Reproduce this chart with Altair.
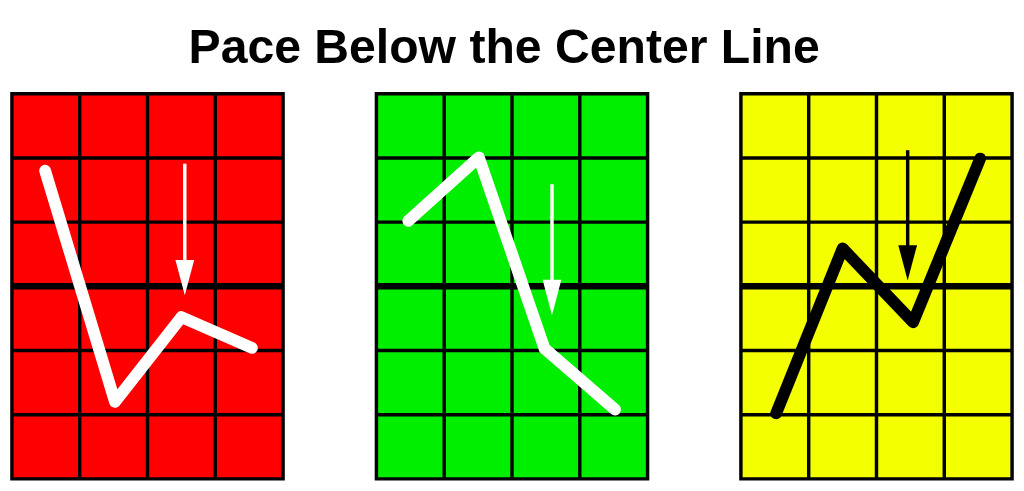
import altair as alt
import pandas as pd

TITLE = "Pace Below the Center Line"

# one entry per panel
panel_fill = ["#FF0000", "#00EE00", "#F4FF00"]
panel_ink = ["#FFFFFF", "#FFFFFF", "#000000"]

# pace line points (column units 0-4, row units 0-6)
line_x = [
    [0.49, 1.52, 2.50, 3.54],
    [0.47, 1.51, 2.48, 3.52],
    [0.52, 1.50, 2.54, 3.53],
]
line_y = [
    [4.80, 1.20, 2.52, 2.04],
    [4.02, 5.01, 2.03, 1.08],
    [1.02, 3.59, 2.44, 4.99],
]

# arrow (x, start, tip)
arrow_x = [2.55, 2.59, 2.46]
arrow_from = [4.91, 4.59, 5.12]
arrow_to = [2.86, 2.55, 3.09]

n_cols = 4
n_rows = 6
grid_x = [1, 2, 3]
grid_y = [1, 2, 4, 5]
center_y = [3]

PW, PH = 276, 392
xs = alt.Scale(domain=[0, n_cols], nice=False, zero=False)
ys = alt.Scale(domain=[0, n_rows], nice=False, zero=False)

ARROW_HEAD = "M-0.53,-2L0.53,-2L0,0Z"


def panel(i):
    box = pd.DataFrame({"x0": [0], "x1": [n_cols], "y0": [0], "y1": [n_rows]})
    bg = alt.Chart(box).mark_rect(fill=panel_fill[i], stroke="black", strokeWidth=3.5).encode(
        x=alt.X("x0:Q", scale=xs, axis=None), x2="x1:Q",
        y=alt.Y("y0:Q", scale=ys, axis=None), y2="y1:Q",
    )
    vl = alt.Chart(pd.DataFrame({"x": grid_x})).mark_rule(color="black", strokeWidth=3.5).encode(
        x=alt.X("x:Q", scale=xs, axis=None)
    )
    hl = alt.Chart(pd.DataFrame({"y": grid_y})).mark_rule(color="black", strokeWidth=3.5).encode(
        y=alt.Y("y:Q", scale=ys, axis=None)
    )
    cl = alt.Chart(pd.DataFrame({"y": center_y})).mark_rule(color="black", strokeWidth=6.5).encode(
        y=alt.Y("y:Q", scale=ys, axis=None)
    )
    ln = alt.Chart(pd.DataFrame({"x": line_x[i], "y": line_y[i], "o": list(range(len(line_x[i])))})).mark_line(
        color=panel_ink[i], strokeWidth=12, strokeCap="round", strokeJoin="round"
    ).encode(
        x=alt.X("x:Q", scale=xs, axis=None),
        y=alt.Y("y:Q", scale=ys, axis=None),
        order="o:Q",
    )
    adf = pd.DataFrame({"x": [arrow_x[i]], "y0": [arrow_from[i]], "y1": [arrow_to[i]]})
    shaft = alt.Chart(adf).transform_calculate(ys_end="datum.y1 + 0.3").mark_rule(
        color=panel_ink[i], strokeWidth=3.5
    ).encode(
        x=alt.X("x:Q", scale=xs, axis=None),
        y=alt.Y("y0:Q", scale=ys, axis=None),
        y2="ys_end:Q",
    )
    head = alt.Chart(adf).mark_point(
        shape=ARROW_HEAD, size=1296, filled=True, color=panel_ink[i], opacity=1, strokeWidth=0
    ).encode(
        x=alt.X("x:Q", scale=xs, axis=None),
        y=alt.Y("y1:Q", scale=ys, axis=None),
    )
    return alt.layer(bg, vl, hl, cl, ln, shaft, head).properties(width=PW, height=PH)


chart = alt.hconcat(*[panel(i) for i in range(3)], spacing=87).properties(
    title=alt.TitleParams(
        TITLE, fontSize=49, font="Liberation Sans", fontWeight="bold", color="black",
        anchor="middle", offset=20, dx=-8,
    ),
    padding={"left": 0, "top": 12, "right": 0, "bottom": 0},
).configure_view(stroke=None)

chart.save("out.html", embed_options={"renderer": "svg", "actions": False})
